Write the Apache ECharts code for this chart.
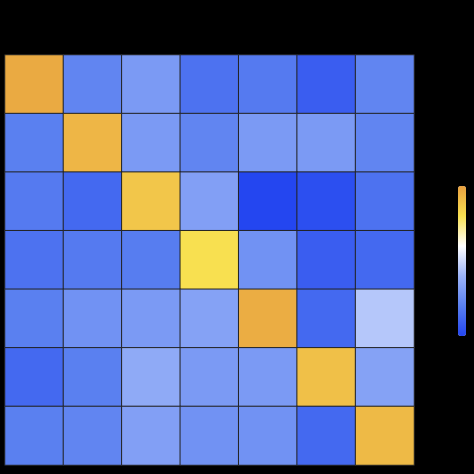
<!DOCTYPE html>
<html><head><meta charset="utf-8">
<script src="https://cdn.jsdelivr.net/npm/echarts@6/dist/echarts.min.js"></script>
<style>html,body{margin:0;background:#000}#c{width:474px;height:474px}</style>
</head><body><div id="c"></div>
<script>
// 类别与矩阵数值（从图中估计）
const labels = ['0', '1', '2', '3', '4', '5', '6'];
const rows = [
  [0.97, 0.22, 0.30, 0.15, 0.18, 0.08, 0.22],
  [0.20, 0.93, 0.30, 0.22, 0.30, 0.30, 0.22],
  [0.18, 0.12, 0.88, 0.32, 0.00, 0.03, 0.15],
  [0.15, 0.18, 0.19, 0.80, 0.27, 0.08, 0.12],
  [0.20, 0.27, 0.30, 0.33, 0.96, 0.12, 0.45],
  [0.12, 0.20, 0.36, 0.30, 0.30, 0.90, 0.33],
  [0.20, 0.22, 0.32, 0.27, 0.27, 0.12, 0.92]
];
const colors = ['#2446f0', '#5a80f0', '#9cb4f8', '#ffffff', '#f8e050', '#e8a040'];

const data = [];
rows.forEach((r, i) => r.forEach((v, j) => data.push([j, i, v])));

const chart = echarts.init(document.getElementById('c'));
chart.setOption({
  backgroundColor: '#000',
  grid: { left: 5, top: 55, width: 409, height: 410 },
  xAxis: { type: 'category', data: labels, show: false },
  yAxis: { type: 'category', data: labels, inverse: true, show: false },
  visualMap: {
    min: 0, max: 1, calculable: false, show: true,
    left: 443, top: 171, itemWidth: 8, itemHeight: 150,
    text: ['', ''], showLabel: false,
    textStyle: { color: 'transparent' },
    inRange: { color: colors }
  },
  series: [{
    type: 'heatmap',
    data: data,
    itemStyle: { borderColor: '#222', borderWidth: 1 }
  }]
});
</script></body></html>
